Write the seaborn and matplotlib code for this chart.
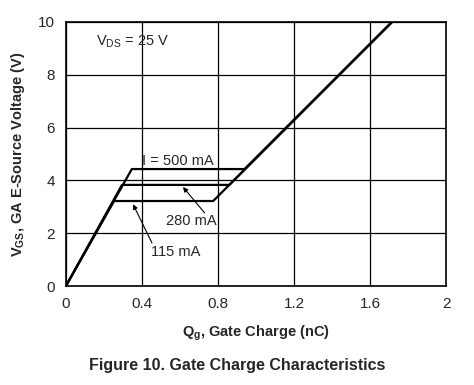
import matplotlib
matplotlib.use("Agg")
import matplotlib.pyplot as plt
from matplotlib.ticker import MultipleLocator
import seaborn as sns
import pandas as pd

# Gate charge curves (Qg in nC, VGS in V)
qg_115 = [0.0, 0.253, 0.775, 1.716]
vgs_115 = [0.0, 3.22, 3.22, 10.0]
qg_280 = [0.0, 0.295, 0.860, 1.716]
vgs_280 = [0.0, 3.83, 3.83, 10.0]
qg_500 = [0.0, 0.347, 0.940, 1.716]
vgs_500 = [0.0, 4.43, 4.43, 10.0]
currents = ["115 mA", "280 mA", "500 mA"]

x_ticks = [0, 0.4, 0.8, 1.2, 1.6, 2]
x_tick_labels = ["0", "0.4", "0.8", "1.2", "1.6", "2"]
y_ticks = [0, 2, 4, 6, 8, 10]

frames = []
for name, q, v in zip(currents, [qg_115, qg_280, qg_500], [vgs_115, vgs_280, vgs_500]):
    frames.append(pd.DataFrame({"Qg": q, "VGS": v, "I": name}))
df = pd.concat(frames, ignore_index=True)

sns.set_style("white")
plt.rcParams["font.family"] = ["Liberation Sans", "DejaVu Sans"]

fig = plt.figure(figsize=(4.74, 3.85), dpi=100)
ax = fig.add_axes([0.139, 0.257, 0.802, 0.686])

sns.lineplot(data=df, x="Qg", y="VGS", units="I", estimator=None, sort=False,
             color="black", linewidth=1.6, ax=ax, legend=False)

ax.set_xlim(0, 2)
ax.set_ylim(0, 10)
ax.set_xticks(x_ticks)
ax.set_xticklabels(x_tick_labels)
ax.set_yticks(y_ticks)
ax.xaxis.set_minor_locator(MultipleLocator(0.2))
ax.yaxis.set_minor_locator(MultipleLocator(1))
ax.grid(True, which="major", color="black", linewidth=0.9)
ax.tick_params(which="both", direction="in", color="black", labelsize=11)
ax.tick_params(which="major", length=4)
ax.tick_params(which="minor", length=3)
ax.tick_params(axis="x", pad=8)
ax.tick_params(axis="y", pad=8)
for s in ax.spines.values():
    s.set_color("black")
    s.set_linewidth(1.2)

ax.set_xlabel("Q$_\\mathregular{g}$, Gate Charge (nC)", fontsize=10.5, fontweight="bold", labelpad=9)
ax.set_ylabel("V$_\\mathregular{GS}$, GA E-Source Voltage (V)", fontsize=10.5, fontweight="bold", labelpad=8)

ax.text(0.16, 9.25, "V$_\\mathregular{DS}$ = 25 V", fontsize=10.5, va="center")
ax.text(0.4, 4.75, "I = 500 mA", fontsize=10.5, va="center")

arrow = dict(arrowstyle="-|>", color="black", lw=0.8, shrinkA=0, shrinkB=0, mutation_scale=7)
ax.text(0.66, 2.45, "280 mA", fontsize=10.5, ha="center", va="center")
ax.annotate("", xy=(0.616, 3.75), xytext=(0.73, 2.77), arrowprops=arrow)
ax.text(0.58, 1.28, "115 mA", fontsize=10.5, ha="center", va="center")
ax.annotate("", xy=(0.353, 3.1), xytext=(0.453, 1.63), arrowprops=arrow)

fig.text(0.5, 0.05, "Figure 10. Gate Charge Characteristics", ha="center", va="center",
         fontsize=11.5, fontweight="bold")

fig.savefig("out.png", dpi=100)
